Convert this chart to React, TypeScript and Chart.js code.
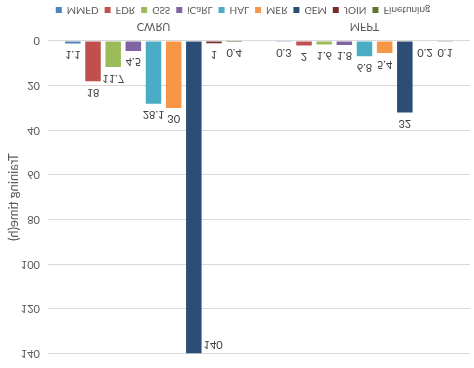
import { useEffect, useRef } from "react";
import { Chart, registerables } from "chart.js";

Chart.register(...registerables);

const categories = ["CWRU", "MFPT"];
const seriesNames = ["MMFD", "FDR", "GSS", "iCaRL", "HAL", "MER", "GEM", "JOIN", "Finetuning"];
const mmfd = [1.1, 0.3];
const fdr = [18, 2];
const gss = [11.7, 1.6];
const icarl = [4.5, 1.8];
const hal = [28.1, 6.8];
const mer = [30, 5.4];
const gem = [140, 32];
const join = [1, 0.2];
const finetuning = [0.4, 0.1];
const seriesValues = [mmfd, fdr, gss, icarl, hal, mer, gem, join, finetuning];
const seriesColors = ["#4F81BD", "#C0504D", "#9BBB59", "#8064A2", "#4BACC6", "#F79646", "#2C4D75", "#772C2A", "#5F7530"];
const yMin = 0;
const yMax = 140;
const yStep = 20;
const yTitle = "Training time(h)";

const FONT = "Lato, 'Liberation Sans', sans-serif";

const valueLabels = {
  id: "valueLabels",
  afterDatasetsDraw(chart: any) {
    const ctx = chart.ctx;
    const area = chart.chartArea;
    ctx.save();
    ctx.font = `11px ${FONT}`;
    ctx.fillStyle = "#404040";
    ctx.textBaseline = "middle";
    chart.data.datasets.forEach((ds: any, i: number) => {
      const meta = chart.getDatasetMeta(i);
      meta.data.forEach((bar: any, j: number) => {
        const text = String(ds.data[j]);
        const p = bar.getProps(["x", "y", "width"], true);
        if (p.y - 17 < area.top) {
          ctx.textAlign = "left";
          ctx.fillText(text, p.x + p.width / 2 + 2, p.y + 9);
        } else {
          ctx.textAlign = "center";
          ctx.fillText(text, p.x, p.y - 11);
        }
      });
    });
    ctx.restore();
  },
};

export default function App() {
  const ref = useRef<HTMLCanvasElement>(null);
  useEffect(() => {
    document.body.style.margin = "0";
    const chart = new Chart(ref.current as HTMLCanvasElement, {
      type: "bar",
      data: {
        labels: categories,
        datasets: seriesNames.map((name, i) => ({
          label: name,
          data: seriesValues[i],
          backgroundColor: seriesColors[i],
          borderWidth: 0,
          categoryPercentage: 0.86,
          barPercentage: 0.77,
        })),
      },
      options: {
        responsive: false,
        animation: false,
        devicePixelRatio: 1,
        layout: { autoPadding: false, padding: { left: 16, right: 4, top: 13, bottom: 1 } },
        plugins: {
          tooltip: { enabled: false },
          legend: {
            position: "bottom",
            labels: {
              boxWidth: 6,
              boxHeight: 6,
              padding: 6,
              color: "#595959",
              font: { family: FONT, size: 10 },
            },
          },
        },
        scales: {
          x: {
            grid: { display: false, drawTicks: false },
            border: { display: false },
            ticks: { color: "#595959", font: { family: FONT, size: 11 }, padding: 8 },
            afterFit(scale: any) {
              scale.height = 20;
            },
          },
          y: {
            min: yMin,
            max: yMax,
            ticks: { stepSize: yStep, color: "#595959", font: { family: FONT, size: 11 }, padding: 8 },
            grid: { color: "#D9D9D9", drawTicks: false },
            border: { display: false },
            title: {
              display: true,
              text: yTitle,
              color: "#595959",
              font: { family: FONT, size: 13 },
              padding: { top: -10, bottom: 0 },
            },
            afterFit(scale: any) {
              scale.width = 32;
            },
          },
        },
      },
      plugins: [valueLabels],
    });
    return () => chart.destroy();
  }, []);
  return (
    <div style={{ position: "fixed", left: 0, top: -6, width: 474, height: 374, overflow: "hidden" }}>
      <canvas
        ref={ref}
        width={474}
        height={374}
        style={{ display: "block", width: 474, height: 374, transform: "scaleY(-1)" }}
      />
    </div>
  );
}
